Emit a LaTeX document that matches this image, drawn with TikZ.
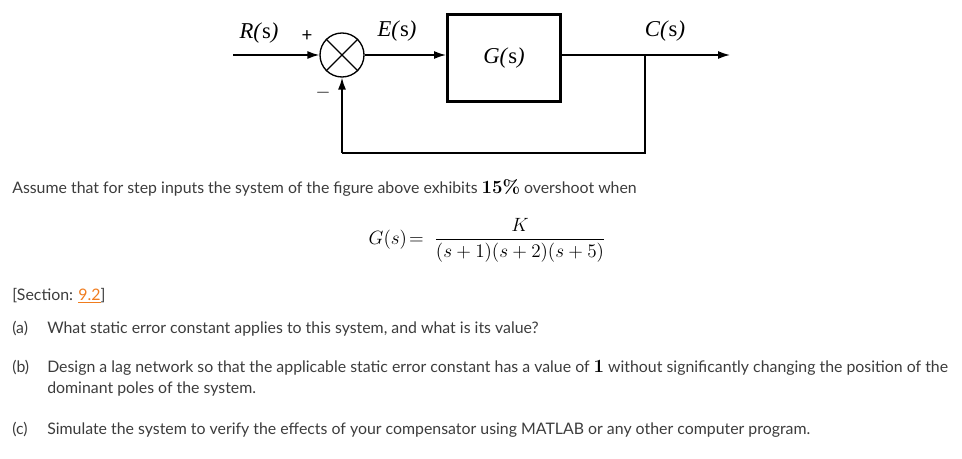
\documentclass[tikz,border=0pt]{standalone}
\usepackage{fontspec}
\setmainfont{Lato}
\usetikzlibrary{arrows.meta}
\newfontfamily\mathserif{Liberation Serif}
\definecolor{txt}{HTML}{3C3C3C}
\definecolor{lnk}{HTML}{F07C1E}
\newcommand{\bnum}[1]{\textcolor{black}{\fontsize{14}{14}\selectfont\fontspec{Latin Modern Roman}\bfseries #1}}
\begin{document}
\begin{tikzpicture}[x=0.75pt,y=-0.75pt,
  wire/.style={line width=1.1pt},
  arr/.style={wire,-{Latex[length=9pt,width=6pt]}},
  lab/.style={font=\mathserif\itshape\fontsize{17}{17}\selectfont},
  para/.style={anchor=west,inner sep=0pt,text=txt,font=\fontsize{11.9}{14}\selectfont}]
\useasboundingbox (0,0) rectangle (962,459);
\coordinate (in) at (233,55);
\node[circle,draw,line width=1pt,minimum size=33pt,inner sep=0pt] (sum) at (342,55) {};
\draw[line width=1pt] (sum.north west) -- (sum.south east) (sum.north east) -- (sum.south west);
\node[draw,line width=2pt,minimum width=85pt,minimum height=65pt] (G) at (504,58) {};
\node[lab] at (504,58) {G(\textup{s})};
\coordinate (br) at (645,55);
\coordinate (out) at (730,55);
\coordinate (bl) at (645,153);
\coordinate (bb) at (342,153);
\draw[arr] (in) -- (sum.west);
\draw[arr] (sum.east) -- (G.west|-sum.east);
\draw[arr] (G.east|-br) -- (out);
\draw[wire] (br) -- (bl) -- (bb);
\draw[arr] (bb) -- (sum.south);
\node[lab] at (259,33) {R(\textup{s})};
\node[font=\fontsize{14}{14}\selectfont] at (307,36) {+};
\node[font=\fontsize{14}{14}\selectfont] at (323,93) {$-$};
\node[lab] at (397,31) {E(\textup{s})};
\node[lab] at (665,31) {C(\textup{s})};
\node[para] (t1) at (12,188) {Assume that for step inputs the system of the figure above exhibits \bnum{15\%} overshoot when};
\node[anchor=east,inner sep=0pt,font=\fontsize{14}{14}\selectfont] (eq) at (424,240) {$G(s)\!=$};
\node[anchor=center,font=\fontsize{14}{14}\selectfont] (fr) at (520,240) {$\displaystyle\frac{K}{(s+1)(s+2)(s+5)}$};
\node[para] (sec) at (12,296) {[Section: \textcolor{lnk}{\underline{9.2}}]};
\node[para] (la) at (12,329) {(a)};
\node[para] (a) at (47,329) {What static error constant applies to this system, and what is its value?};
\node[para] (lb) at (12,368) {(b)};
\node[para] (b1) at (47,368) {Design a lag network so that the applicable static error constant has a value of \bnum{1} without significantly changing the position of the};
\node[para] (b2) at (47,389) {dominant poles of the system.};
\node[para] (lc) at (12,430) {(c)};
\node[para] (c) at (47,430) {Simulate the system to verify the effects of your compensator using MATLAB or any other computer program.};
\end{tikzpicture}
\end{document}
